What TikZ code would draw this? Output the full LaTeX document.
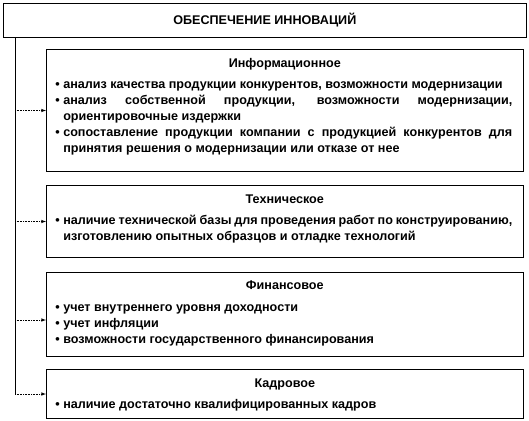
\documentclass[tikz,border=0pt]{standalone}
\usepackage{fontspec}
\setmainfont{Liberation Sans}
\usepackage{tikz}
\usetikzlibrary{arrows}
\newcommand{\itm}[1]{\par\noindent\hangindent=11pt\hangafter=1\hbox to 11pt{\hskip 3pt\textbullet\hss}#1}
\newcommand{\cellbox}[3]{\parbox[t][#1][t]{465pt}{\rightskip=5pt{\centering\rule{0pt}{18pt}#2\par}\vspace{5.5pt}#3\par}}

\begin{document}
\begin{tikzpicture}[x=1pt, y=-1pt,
    head/.style={draw, line width=0.6pt, anchor=north west, inner sep=0pt, minimum width=523pt, minimum height=34pt, text height=8.6pt, text depth=0pt, font=\fontsize{12.6pt}{16pt}\selectfont\bfseries},
    part/.style={draw, line width=0.6pt, anchor=north west, inner sep=0pt, inner xsep=6pt, font=\fontsize{12.6pt}{16pt}\selectfont\bfseries},
    feed/.style={line width=0.6pt, densely dotted, -latex}]
    \useasboundingbox (0, 0) rectangle (529, 420);
    \node [head] (TOP) at (3, 3) {ОБЕСПЕЧЕНИЕ ИННОВАЦИЙ};
    \node [part] (INF) at (46, 49) {\cellbox{122pt}{Информационное}{%
        \itm{анализ качества продукции конкурентов, возможности модернизации}
        \itm{анализ собственной продукции, возможности модернизации,\linebreak ориентировочные издержки}
        \itm{сопоставление продукции компании с продукцией конкурентов для\linebreak принятия решения о модернизации или отказе от нее}}};
    \node [part] (TEC) at (46, 185) {\cellbox{72pt}{Техническое}{%
        \itm{наличие технической базы для проведения работ по конструированию,\linebreak изготовлению опытных образцов и отладке технологий}}};
    \node [part] (FIN) at (46, 271.5) {\cellbox{84pt}{Финансовое}{%
        \itm{учет внутреннего уровня доходности}
        \itm{учет инфляции}
        \itm{возможности государственного финансирования}}};
    \node [part] (KAD) at (46, 369) {\cellbox{48.5pt}{Кадровое}{%
        \itm{наличие достаточно квалифицированных кадров}}};
    \coordinate (A1) at (15, 110.5);
    \coordinate (A2) at (15, 221.5);
    \coordinate (A3) at (15, 320);
    \coordinate (A4) at (15, 394);
    \draw [line width=0.6pt] (TOP.south -| A1) -- (A4);
    \draw [feed] (A1) -- (A1 -| INF.west);
    \draw [feed] (A2) -- (A2 -| TEC.west);
    \draw [feed] (A3) -- (A3 -| FIN.west);
    \draw [feed] (A4) -- (A4 -| KAD.west);
\end{tikzpicture}
\end{document}
